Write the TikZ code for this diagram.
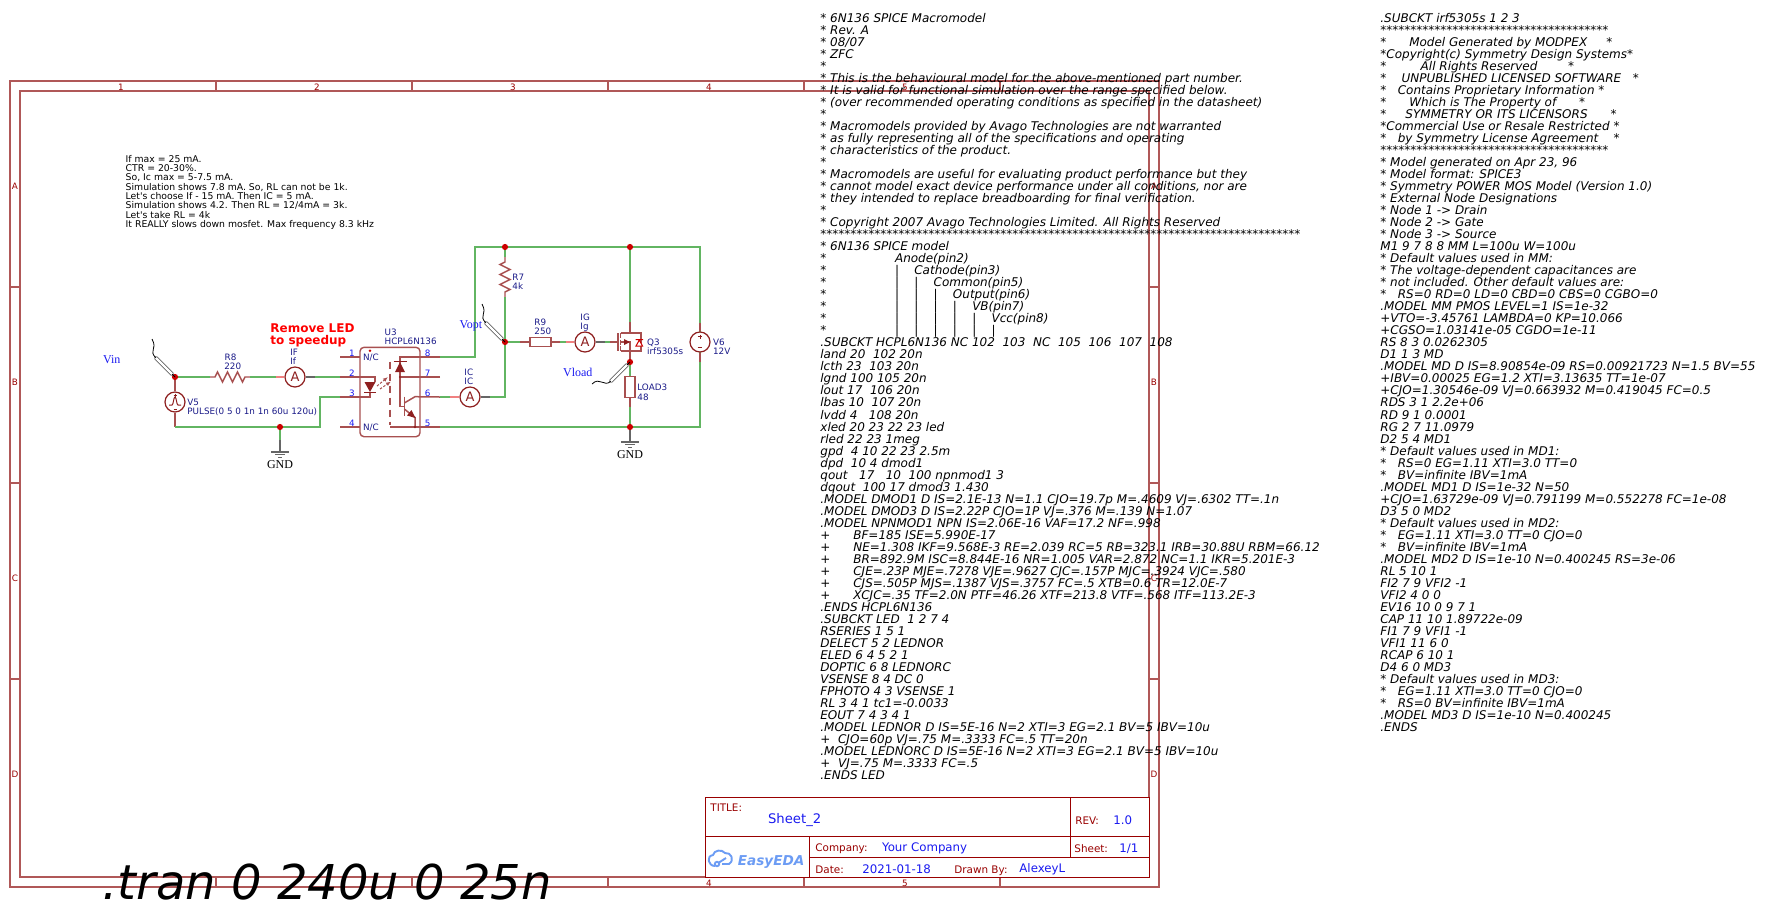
\documentclass[tikz,border=0pt]{standalone}
\usepackage{fontspec}
\usetikzlibrary{arrows.meta}
\newfontfamily\djv{DejaVu Sans}
\newfontfamily\lser{Liberation Serif}
\newcommand\spf{\fontsize{6}{6}\selectfont\djv\itshape}
\newcommand\ntf{\fontsize{4.65}{4.65}\selectfont\djv}
\newcommand\lbf{\fontsize{4.4}{4.4}\selectfont\djv}
\newcommand\prf{\fontsize{6}{6}\selectfont\lser}
\newcommand\tbf{\fontsize{5.2}{5.2}\selectfont\djv}
\newcommand\tvf{\fontsize{5.9}{5.9}\selectfont\djv}
\definecolor{wirec}{HTML}{62B562}
\definecolor{pinc}{HTML}{A85050}
\definecolor{symc}{HTML}{8E1F1F}
\definecolor{framec}{HTML}{B05858}
\definecolor{tbc}{HTML}{990000}
\definecolor{navyc}{HTML}{1A1A88}
\definecolor{bluec}{HTML}{1A1AF0}
\definecolor{salm}{HTML}{F08080}
\definecolor{greyp}{HTML}{666666}
\definecolor{junc}{HTML}{CC0000}
\definecolor{logoc}{HTML}{6C9CF4}
\tikzset{
  wire/.style={draw=wirec,line width=.75pt},
  pinl/.style={draw=pinc,line width=.75pt},
  pinin/.style={draw=salm,line width=.75pt},
  pinout/.style={draw=greyp,line width=.75pt},
  sym/.style={draw=pinc,line width=.7pt},
  frameline/.style={draw=framec,line width=.7pt},
  tbline/.style={draw=tbc,line width=.5pt},
  framelab/.style={text=tbc,font=\lbf,inner sep=0pt},
  ammeter/.style={circle,draw=symc,line width=.6pt,fill=white,minimum size=10pt,inner sep=0pt,text=symc,font=\fontsize{6.5}{6.5}\selectfont\djv},
  srcbox/.style={circle,draw=symc,line width=.6pt,fill=white,minimum size=10pt,inner sep=0pt},
  resbox/.style={rectangle,draw=pinc,line width=.7pt,fill=white,inner sep=0pt},
  lbl/.style={anchor=base west,inner sep=0pt,text=navyc,font=\lbf},
  pnum/.style={anchor=base,inner sep=0pt,text=bluec,font=\lbf},
  probelab/.style={anchor=base west,inner sep=0pt,text=bluec,font=\prf},
  gndlab/.style={anchor=center,inner sep=0pt,text=black,font=\prf},
  speci/.style={anchor=base west,inner sep=0pt,text=black,font=\spf},
  notel/.style={anchor=base west,inner sep=0pt,text=black,font=\ntf},
  tbtitle/.style={anchor=base west,inner sep=0pt,text=tbc,font=\tbf},
  tbval/.style={anchor=base west,inner sep=0pt,text=bluec,font=\tvf},
  probecap/.style={draw=black,double=white,line width=.3pt,double distance=1.3pt,line cap=round},
  probewave/.style={draw=black,line width=.4pt},
  gndline/.style={draw=greyp,line width=.7pt}
}
\begin{document}
\begin{tikzpicture}[x=.5pt,y=-.5pt]
\useasboundingbox (0,0) rectangle (1773,917);
% frame
\draw[frameline] (10,81) rectangle (1159,887);
\draw[frameline] (20,91) rectangle (1149,877);
\foreach \xx in {216,412,608,804,1000}{
  \draw[frameline] (\xx,81) -- (\xx,91);
  \draw[frameline] (\xx,877) -- (\xx,887);
}
\foreach \yy in {287,483,679}{
  \draw[frameline] (10,\yy) -- (20,\yy);
  \draw[frameline] (1149,\yy) -- (1159,\yy);
}
\foreach \xx/\nn in {121/1,317/2,513/3,709/4,905/5}{
  \node[framelab] (topn\nn) at (\xx,87) {\nn};
}
\foreach \xx/\nn in {709/4,905/5}{
  \node[framelab] (botn\nn) at (\xx,883) {\nn};
}
\foreach \yy/\nn in {186/A,382/B,578/C,774/D}{
  \node[framelab] (leftl\nn) at (15,\yy) {\nn};
  \node[framelab] (rightl\nn) at (1154,\yy) {\nn};
}
% title block
\draw[tbline,fill=white] (705,797) rectangle (1149,877);
\draw[tbline] (705,836) -- (1149,836);
\draw[tbline] (809,857) -- (1149,857);
\draw[tbline] (809,836) -- (809,877);
\draw[tbline] (1070,797) -- (1070,857);
\node[tbtitle] (ttitle) at (710,811) {TITLE:};
\node[tbval,font=\fontsize{6.6}{6.6}\selectfont\djv] (tsheet) at (767.7,823) {Sheet\_2};
\node[tbtitle] (trev) at (1075,824.5) {REV:};
\node[tbval] (trevv) at (1113,824.5) {1.0};
\node[tbtitle] (tcomp) at (815,851) {Company:};
\node[tbval] (tcompv) at (881.7,851) {Your Company};
\node[tbtitle] (tsh) at (1074,852.5) {Sheet:};
\node[tbval] (tshv) at (1119,852.5) {1/1};
\node[tbtitle] (tdate) at (815,873) {Date:};
\node[tbval] (tdatev) at (862,873) {2021-01-18};
\node[tbtitle] (tdraw) at (954,873) {Drawn By:};
\node[tbval] (tdrawv) at (1019,872.5) {AlexeyL};
% logo
\draw[draw=logoc,line width=.95pt,line join=round]
  (715,866) .. controls (708,866) and (706,856) .. (713,855)
  .. controls (714,850) and (722,849) .. (725,853)
  .. controls (731,852) and (735,860) .. (729,864) -- (722,864);
\draw[draw=logoc,line width=.95pt] (717,864) circle (2.2);
\draw[draw=logoc,line width=.95pt] (719,862.5) -- (726,858);
\node[anchor=base west,inner sep=0pt,text=logoc,font=\fontsize{6.8}{6.8}\selectfont\djv\bfseries\itshape] (tlogo) at (737.5,865) {EasyEDA};

% note
\foreach \tx [count=\i from 0] in {If max = 25 mA.,CTR = 20-30\%.,So{,} Ic max = 5-7.5 mA.,Simulation shows 7.8 mA. So{,} RL can not be 1k.,Let's choose If - 15 mA. Then IC = 5 mA.,Simulation shows 4.2. Then RL = 12/4mA = 3k.,Let's take RL = 4k,It REALLY slows down mosfet. Max frequency 8.3 kHz}{
  \node[notel] (note\i) at (125.3,162.3+9.33*\i) {\tx};
}

% circuit coordinates
\coordinate (jvin) at (175,377);
\coordinate (jgl) at (280,427);
\coordinate (jtop) at (505,247);
\coordinate (jtopr) at (630,247);
\coordinate (jopt) at (505,342);
\coordinate (jload) at (630,362);
\coordinate (jgr) at (630,427);
\coordinate (cTR) at (700,247);
\coordinate (cBR) at (700,427);
\coordinate (cBL) at (175,427);

% package
\draw[sym,rounded corners=2pt] (360,347.3) rectangle (420,436.7);
\fill[junc] (370,350.7) circle (1.4);
% pins left
\coordinate (p1) at (340,357); \coordinate (p2) at (340,377); \coordinate (p3) at (340,397); \coordinate (p4) at (340,427);
\coordinate (p8) at (440,357); \coordinate (p7) at (440,377); \coordinate (p6) at (440,397); \coordinate (p5) at (440,427);
\draw[pinl] (p1) -- (360,357);
\draw[pinl] (p4) -- (360,427);
\draw[pinl] (p2) -- (375,377) -- (375,382);
\draw[pinl] (p3) -- (370,397) -- (370,392);
% LED
\fill[symc] (364.5,382) -- (375.5,382) -- (370,392) -- cycle;
\draw[symc,line width=.6pt] (364,392.5) -- (376,392.5);
\draw[sym,line width=.5pt,dash pattern=on 1.2pt off .8pt,-{Latex[length=2.5pt,width=2pt]}] (377,386) -- (388,377);
\draw[sym,line width=.5pt,dash pattern=on 1.2pt off .8pt,-{Latex[length=2.5pt,width=2pt]}] (380,389) -- (391,381.5);
% isolation
\draw[sym,dash pattern=on 3.5pt off 2.5pt] (390,361.7) -- (390,425);
\draw[pinl] (390,427) -- (p5);
% photodiode
\draw[pinl] (p8) -- (400,357) -- (400,406.7) -- (404.3,406.7);
\draw[pinl] (p7) -- (400,377);
\fill[symc] (395,372) -- (405,372) -- (400,362) -- cycle;
\draw[symc,line width=.6pt] (393.5,361.7) -- (406.5,361.7);
\fill[symc] (400,377) circle (1.2);
% transistor
\draw[pinl] (404.3,396.7) -- (404.3,416);
\draw[pinl] (404.3,403) -- (415,396.7) -- (p6);
\draw[pinl] (404.3,409) -- (415,417.5) -- (415,427);
\fill[symc] (415.5,418) -- (407,415.5) -- (411.5,410) -- cycle;
\fill[symc] (415,427) circle (1.3);
% component labels for U3
\node[lbl] (nc1) at (362.7,360.5) {N/C};
\node[lbl] (nc4) at (362.7,430.5) {N/C};
\node[pnum] (n1) at (352,356) {1};
\node[pnum] (n2) at (352,376) {2};
\node[pnum] (n3) at (352,396) {3};
\node[pnum] (n4) at (352,426.5) {4};
\node[pnum] (n8) at (427.7,356) {8};
\node[pnum] (n7) at (427.7,376) {7};
\node[pnum] (n6) at (427.7,396) {6};
\node[pnum] (n5) at (427.7,426.5) {5};
\node[lbl] (u3a) at (384.3,335.2) {U3};
\node[lbl] (u3b) at (384.3,344.5) {HCPL6N136};

% R8
\coordinate (r8l) at (210,377); \coordinate (r8a) at (215,377); \coordinate (r8b) at (245,377); \coordinate (r8r) at (250,377);
\draw[sym] (r8l) -- (r8a) -- (217.5,372) -- (222.5,382) -- (227.5,372) -- (232.5,382) -- (237.5,372) -- (242.5,382) -- (r8b) -- (r8r);
\node[lbl] (r8t) at (224.3,360.2) {R8};
\node[lbl] (r8v) at (224,369.5) {220};
% IF
\node[ammeter] (IF) at (295,377) {A};
\coordinate (ifl) at (276,377); \coordinate (ifr) at (315,377);
\draw[pinin] (ifl) -- (IF.west);
\draw[pinout] (IF.east) -- (ifr);
\node[lbl] (ift) at (290,355.2) {IF};
\node[lbl] (ifv) at (290,364.5) {If};
\draw[wire] (jvin) -- (r8l);
\draw[wire] (r8r) -- (ifl);
\draw[wire] (ifr) -- (p2);
% V5
\node[srcbox] (V5) at (175,402) {};
\draw[pinl] (jvin) -- (V5.north);
\draw[pinl] (V5.south) -- (cBL);
\draw[symc,line width=.5pt] (169,405) -- (172,405) .. controls (173.5,405) and (173.5,397) .. (175,397) .. controls (176.5,397) and (176.5,405) .. (178,405) -- (181,405);
\draw[symc,line width=.4pt] (175,393.5) -- (175,396.5) (173.5,395) -- (176.5,395) (173.5,409.5) -- (176.5,409.5);
\node[lbl] (v5t) at (187,405.5) {V5};
\node[lbl] (v5v) at (187,414.5) {PULSE(0 5 0 1n 1n 60u 120u)};
% bottom rail left
\coordinate (p3a) at (320,397); \coordinate (p3b) at (320,427);
\draw[wire] (cBL) -- (jgl) -- (p3b) -- (p3a) -- (p3);
% GND left
\coordinate (gl1) at (280,440); \coordinate (gl2) at (280,452);
\draw[wire] (jgl) -- (gl1);
\draw[pinout] (gl1) -- (gl2);
\draw[gndline] (271,452) -- (289,452) (275,454.7) -- (285,454.7) (278,457.3) -- (282,457.3);
\node[gndlab] (gndl) at (280,465) {GND};
\draw[wire] (p5) -- (jgr) -- (cBR) -- (cTR) -- (jtopr) -- (jtop) -- (475,247) -- (475,357) -- (p8);
% IC
\node[ammeter] (IC) at (470,397) {A};
\coordinate (icl) at (450,397); \coordinate (icr) at (490,397); \coordinate (icc) at (505,397);
\draw[pinin] (icl) -- (IC.west);
\draw[pinout] (IC.east) -- (icr);
\draw[wire] (p6) -- (icl);
\draw[wire] (icr) -- (icc) -- (jopt);
\node[lbl] (ict) at (464,375.2) {IC};
\node[lbl] (icv) at (464,384.5) {IC};
% R7
\coordinate (r7t) at (505,257); \coordinate (r7a) at (505,262); \coordinate (r7b) at (505,292); \coordinate (r7d) at (505,297);
\draw[wire] (jtop) -- (r7t);
\draw[sym] (r7t) -- (r7a) -- (500,264.5) -- (510,269.5) -- (500,274.5) -- (510,279.5) -- (500,284.5) -- (510,289.5) -- (r7b) -- (r7d);
\draw[wire] (r7d) -- (jopt);
\node[lbl] (r7l) at (512,280.2) {R7};
\node[lbl] (r7v) at (512,289.5) {4k};
% R9
\node[resbox,minimum width=10.5pt,minimum height=4.5pt] (R9) at (540.5,342) {};
\coordinate (r9l) at (520,342); \coordinate (r9r) at (560,342);
\draw[pinl] (r9l) -- (R9.west);
\draw[pinl] (R9.east) -- (r9r);
\draw[wire] (jopt) -- (r9l);
\node[lbl] (r9t) at (534,325.2) {R9};
\node[lbl] (r9v) at (534,334.5) {250};
% IG
\node[ammeter] (IG) at (585,342) {A};
\coordinate (igl) at (566,342); \coordinate (igr) at (605,342); \coordinate (gpin) at (610,342); \coordinate (gate) at (618,342);
\draw[wire] (r9r) -- (igl);
\draw[pinin] (igl) -- (IG.west);
\draw[pinout] (IG.east) -- (igr);
\draw[wire] (igr) -- (gpin);
\draw[pinl] (gpin) -- (gate);
\node[lbl] (igt) at (580,320.2) {IG};
\node[lbl] (igv) at (580,329.5) {Ig};
% Q3
\coordinate (qd) at (630,322); \coordinate (qs) at (630,352);
\draw[pinl] (gate) ++(0,-9) -- ++(0,18);
\draw[pinl] (620.5,333) -- (620.5,338) (620.5,339.5) -- (620.5,344.5) (620.5,346) -- (620.5,351);
\draw[pinl] (620.5,333) -- (641,333) -- (641,351) -- (620.5,351);
\draw[pinl] (620.5,342) -- (630,342) -- (630,351);
\draw[pinl] (qd) -- (630,333);
\draw[pinl] (630,351) -- (qs) -- (jload);
\fill[symc] (624,339) -- (624,345) -- (630,342) -- cycle;
\draw[draw=junc,line width=.5pt,fill=white] (636,346) -- (642.5,346) -- (639.3,340) -- cycle (635.5,339.7) -- (643,339.7);
\draw[wire] (jtopr) -- (qd);
\node[lbl] (q3t) at (646.7,345.5) {Q3};
\node[lbl] (q3v) at (646.7,354.5) {irf5305s};
% LOAD3
\node[resbox,minimum width=5pt,minimum height=10.5pt] (LOAD) at (630,387) {};
\coordinate (ldb) at (630,407);
\draw[wire] (jload) -- (LOAD.north);
\draw[pinl] (LOAD.south) -- (ldb);
\draw[wire] (ldb) -- (jgr);
\node[lbl] (ldt) at (637,390.5) {LOAD3};
\node[lbl] (ldv) at (637,400) {48};
% GND right
\coordinate (gr2) at (630,442);
\draw[pinout] (jgr) -- (gr2);
\draw[gndline] (621,442) -- (639,442) (625,444.7) -- (635,444.7) (628,447.3) -- (632,447.3);
\node[gndlab] (gndr) at (630,455) {GND};
% V6
\node[srcbox] (V6) at (700,342) {};
\coordinate (v6t) at (700,322.5); \coordinate (v6b) at (700,361.5);
\draw[pinl] (v6t) -- (V6.north);
\draw[pinl] (V6.south) -- (v6b);
\draw[symc,line width=.45pt] (700,334.5) -- (700,339) (697.7,336.7) -- (702.3,336.7) (697.7,347.5) -- (702.3,347.5);
\node[lbl] (v6l) at (712.7,345.2) {V6};
\node[lbl] (v6v) at (712.7,354.5) {12V};
% junctions
\foreach \jn in {jvin,jgl,jtop,jtopr,jopt,jload,jgr}{ \fill[junc] (\jn) circle (3.1); }
% probes
\coordinate (pva) at (172,374); \coordinate (pvb) at (156,358); \coordinate (pve) at (152,339);
\draw[probecap] (pva) -- (pvb);
\draw[probewave] (jvin) -- (pva);
\draw[probewave] (pvb) .. controls (148,350) and (158,350) .. (pve);
\coordinate (poa) at (502,339); \coordinate (pob) at (486,323); \coordinate (poe) at (482,304);
\draw[probecap] (poa) -- (pob);
\draw[probewave] (jopt) -- (poa);
\draw[probewave] (pob) .. controls (478,315) and (488,315) .. (poe);
\coordinate (pla) at (627,365); \coordinate (plb) at (611,381); \coordinate (ple) at (592,384);
\draw[probecap] (pla) -- (plb);
\draw[probewave] (jload) -- (pla);
\draw[probewave] (plb) .. controls (604,388) and (600,376) .. (ple);
\node[probelab] (lvin) at (102.7,363.7) {Vin};
\node[probelab] (lvopt) at (459.3,328) {Vopt};
\node[probelab] (lvload) at (562.7,376.5) {Vload};
% remove LED
\node[anchor=base west,inner sep=0pt,text=red,font=\fontsize{6}{6}\selectfont\djv\bfseries] (rm1) at (270,332) {Remove LED};
\node[anchor=base west,inner sep=0pt,text=red,font=\fontsize{6}{6}\selectfont\djv\bfseries] (rm2) at (270,344.3) {to speedup};
% tran
\node[anchor=base west,inner sep=0pt,text=black,font=\fontsize{24}{24}\selectfont\djv\itshape] (tran) at (102,899) {.tran 0 240u 0 25n};

% spice left
\foreach \tx [count=\i from 0] in {
{* 6N136 SPICE Macromodel},
{* Rev. A},
{* 08/07},
{* ZFC},
{*},
{* This is the behavioural model for the above-mentioned part number.},
{* It is valid for functional simulation over the range specified below.},
{* (over recommended operating conditions as specified in the datasheet)},
{*},
{* Macromodels provided by Avago Technologies are not warranted},
{* as fully representing all of the specifications and operating},
{* characteristics of the product.},
{*},
{* Macromodels are useful for evaluating product performance but they},
{* cannot model exact device performance under all conditions, nor are},
{* they intended to replace breadboarding for final verification.},
{*},
{* Copyright 2007 Avago Technologies Limited. All Rights Reserved},
{********************************************************************************},
{* 6N136 SPICE model},
{*~~~~~~~~~~~~~~~~~~Anode(pin2)},
{*~~~~~~~~~~~~~~~~~~|~~~~Cathode(pin3)},
{*~~~~~~~~~~~~~~~~~~|~~~~|~~~~Common(pin5)},
{*~~~~~~~~~~~~~~~~~~|~~~~|~~~~|~~~~Output(pin6)},
{*~~~~~~~~~~~~~~~~~~|~~~~|~~~~|~~~~|~~~~VB(pin7)},
{*~~~~~~~~~~~~~~~~~~|~~~~|~~~~|~~~~|~~~~|~~~~Vcc(pin8)},
{*~~~~~~~~~~~~~~~~~~|~~~~|~~~~|~~~~|~~~~|~~~~|},
{.SUBCKT HCPL6N136 NC 102~~103~~NC~~105~~106~~107~~108},
{land 20~~102 20n},
{lcth 23~~103 20n},
{lgnd 100 105 20n},
{lout 17~~106 20n},
{lbas 10~~107 20n},
{lvdd 4~~~108 20n},
{xled 20 23 22 23 led},
{rled 22 23 1meg},
{gpd~~4 10 22 23 2.5m},
{dpd~~10 4 dmod1},
{qout~~~17~~~10~~100 npnmod1 3},
{dqout~~100 17 dmod3 1.430},
{.MODEL DMOD1 D IS=2.1E-13 N=1.1 CJO=19.7p M=.4609 VJ=.6302 TT=.1n},
{.MODEL DMOD3 D IS=2.22P CJO=1P VJ=.376 M=.139 N=1.07},
{.MODEL NPNMOD1 NPN IS=2.06E-16 VAF=17.2 NF=.998},
{+~~~~~~BF=185 ISE=5.990E-17},
{+~~~~~~NE=1.308 IKF=9.568E-3 RE=2.039 RC=5 RB=323.1 IRB=30.88U RBM=66.12},
{+~~~~~~BR=892.9M ISC=8.844E-16 NR=1.005 VAR=2.872 NC=1.1 IKR=5.201E-3},
{+~~~~~~CJE=.23P MJE=.7278 VJE=.9627 CJC=.157P MJC=.3924 VJC=.580},
{+~~~~~~CJS=.505P MJS=.1387 VJS=.3757 FC=.5 XTB=0.6 TR=12.0E-7},
{+~~~~~~XCJC=.35 TF=2.0N PTF=46.26 XTF=213.8 VTF=.568 ITF=113.2E-3},
{.ENDS HCPL6N136},
{.SUBCKT LED~~1 2 7 4},
{RSERIES 1 5 1},
{DELECT 5 2 LEDNOR},
{ELED 6 4 5 2 1},
{DOPTIC 6 8 LEDNORC},
{VSENSE 8 4 DC 0},
{FPHOTO 4 3 VSENSE 1},
{RL 3 4 1 tc1=-0.0033},
{EOUT 7 4 3 4 1},
{.MODEL LEDNOR D IS=5E-16 N=2 XTI=3 EG=2.1 BV=5 IBV=10u},
{+~~CJO=60p VJ=.75 M=.3333 FC=.5 TT=20n},
{.MODEL LEDNORC D IS=5E-16 N=2 XTI=3 EG=2.1 BV=5 IBV=10u},
{+~~VJ=.75 M=.3333 FC=.5},
{.ENDS LED}}{
  \node[speci] (spa\i) at (820,22+12.03*\i) {\tx};
}
% spice right
\foreach \tx [count=\i from 0] in {
{.SUBCKT irf5305s 1 2 3},
{**************************************},
{*~~~~~~Model Generated by MODPEX~~~~~*},
{*Copyright(c) Symmetry Design Systems*},
{*~~~~~~~~~All Rights Reserved~~~~~~~~*},
{*~~~~UNPUBLISHED LICENSED SOFTWARE~~~*},
{*~~~Contains Proprietary Information *},
{*~~~~~~Which is The Property of~~~~~~*},
{*~~~~~SYMMETRY OR ITS LICENSORS~~~~~~*},
{*Commercial Use or Resale Restricted *},
{*~~~by Symmetry License Agreement~~~~*},
{**************************************},
{* Model generated on Apr 23, 96},
{* Model format: SPICE3},
{* Symmetry POWER MOS Model (Version 1.0)},
{* External Node Designations},
{* Node 1 -> Drain},
{* Node 2 -> Gate},
{* Node 3 -> Source},
{M1 9 7 8 8 MM L=100u W=100u},
{* Default values used in MM:},
{* The voltage-dependent capacitances are},
{* not included. Other default values are:},
{*~~~RS=0 RD=0 LD=0 CBD=0 CBS=0 CGBO=0},
{.MODEL MM PMOS LEVEL=1 IS=1e-32},
{+VTO=-3.45761 LAMBDA=0 KP=10.066},
{+CGSO=1.03141e-05 CGDO=1e-11},
{RS 8 3 0.0262305},
{D1 1 3 MD},
{.MODEL MD D IS=8.90854e-09 RS=0.00921723 N=1.5 BV=55},
{+IBV=0.00025 EG=1.2 XTI=3.13635 TT=1e-07},
{+CJO=1.30546e-09 VJ=0.663932 M=0.419045 FC=0.5},
{RDS 3 1 2.2e+06},
{RD 9 1 0.0001},
{RG 2 7 11.0979},
{D2 5 4 MD1},
{* Default values used in MD1:},
{*~~~RS=0 EG=1.11 XTI=3.0 TT=0},
{*~~~BV=infinite IBV=1mA},
{.MODEL MD1 D IS=1e-32 N=50},
{+CJO=1.63729e-09 VJ=0.791199 M=0.552278 FC=1e-08},
{D3 5 0 MD2},
{* Default values used in MD2:},
{*~~~EG=1.11 XTI=3.0 TT=0 CJO=0},
{*~~~BV=infinite IBV=1mA},
{.MODEL MD2 D IS=1e-10 N=0.400245 RS=3e-06},
{RL 5 10 1},
{FI2 7 9 VFI2 -1},
{VFI2 4 0 0},
{EV16 10 0 9 7 1},
{CAP 11 10 1.89722e-09},
{FI1 7 9 VFI1 -1},
{VFI1 11 6 0},
{RCAP 6 10 1},
{D4 6 0 MD3},
{* Default values used in MD3:},
{*~~~EG=1.11 XTI=3.0 TT=0 CJO=0},
{*~~~RS=0 BV=infinite IBV=1mA},
{.MODEL MD3 D IS=1e-10 N=0.400245},
{.ENDS}}{
  \node[speci] (spb\i) at (1380,22+12.03*\i) {\tx};
}
\end{tikzpicture}
\end{document}
